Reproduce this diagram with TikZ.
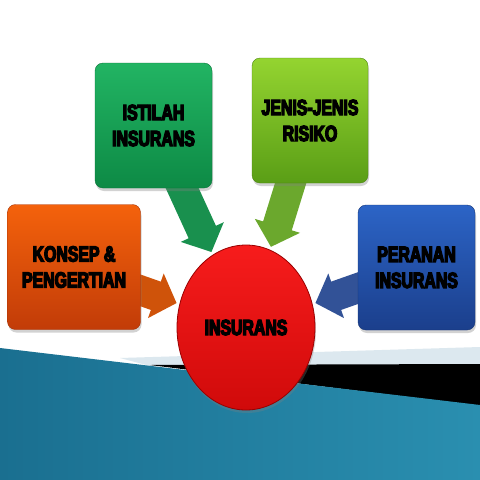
\documentclass[tikz,border=0pt]{standalone}
\usepackage{fontspec}
\usepackage{tikz}
\usetikzlibrary{arrows.meta,shapes.geometric,shadows,backgrounds}
\newfontfamily\boxfont{Liberation Sans}[FakeStretch=0.72,BoldFeatures={FakeBold=6}]

\definecolor{orangeT}{HTML}{F4620C}
\definecolor{orangeB}{HTML}{C23C08}
\definecolor{greenT}{HTML}{22B463}
\definecolor{greenB}{HTML}{0D8A45}
\definecolor{limeT}{HTML}{94D430}
\definecolor{limeB}{HTML}{5A9E16}
\definecolor{blueT}{HTML}{2C64C6}
\definecolor{blueB}{HTML}{1B3F8C}
\definecolor{redT}{HTML}{F71C1C}
\definecolor{redB}{HTML}{D00A0A}
\definecolor{seaD}{HTML}{1A6F90}
\definecolor{seaL}{HTML}{58B9DA}
\definecolor{seaM}{HTML}{2A8FB0}
\definecolor{pale}{HTML}{DCE8EF}

\begin{document}
\begin{tikzpicture}
  [
    x=1pt, y=-1pt,
    topic/.style = {rectangle, rounded corners=8pt, minimum width=133pt,
                    minimum height=125pt, inner sep=0pt, align=center,
                    font=\boxfont\bfseries\fontsize{22}{26}\selectfont,
                    drop shadow={opacity=0.35, shadow xshift=1pt, shadow yshift=-3pt}},
    hub/.style   = {ellipse, minimum width=138pt, minimum height=165pt, inner sep=0pt,
                    top color=redT, bottom color=redB, draw=red!60!black, line width=0.8pt,
                    font=\boxfont\bfseries\fontsize{22}{26}\selectfont,
                    drop shadow={opacity=0.3, shadow xshift=1pt, shadow yshift=-3pt}},
    feed/.style  = {line width=30pt, -{Triangle[width=46pt,length=22pt]}, shorten >=3pt},
  ]

  \useasboundingbox (0,0) rectangle (480,480);

  % slide background
  \begin{pgfonlayer}{background}
    \fill[white] (0,0) rectangle (480,480);
    \fill[pale] (120,358) -- (480,347) -- (480,366) -- (150,366) -- cycle;
    \fill[black] (150,365) -- (480,364) -- (480,406) -- cycle;
    \shade[left color=seaD, middle color=seaL, right color=seaM]
      (0,348) -- (480,405) -- (480,480) -- (0,480) -- cycle;
  \end{pgfonlayer}

  \node [topic, top color=orangeT, bottom color=orangeB, draw=orangeB!85!black] (konsep)  at (74,267)    {KONSEP \&\\PENGERTIAN};
  \node [topic, top color=greenT, bottom color=greenB, draw=greenB!85!black, minimum width=117pt] (istilah) at (153.5,125.5) {ISTILAH\\INSURANS};
  \node [topic, top color=limeT, bottom color=limeB, draw=limeB!85!black, minimum width=116pt] (jenis)   at (310,120.5)   {JENIS-JENIS\\RISIKO};
  \node [topic, top color=blueT, bottom color=blueB, draw=blueB!85!black, minimum width=117pt] (peranan) at (416.5,267.5) {PERANAN\\INSURANS};

  \node [hub] (insurans) at (246,327.5) {INSURANS};

  \begin{pgfonlayer}{background}
    \draw [feed, orangeT!85!black] (konsep.center)  -- (insurans);
    \draw [feed, greenB!95!white]  (istilah.center) -- (insurans);
    \draw [feed, limeB!90!white]   (jenis.center)   -- (insurans);
    \draw [feed, blueB!90!white]   (peranan.center) -- (insurans);
  \end{pgfonlayer}

\end{tikzpicture}
\end{document}
